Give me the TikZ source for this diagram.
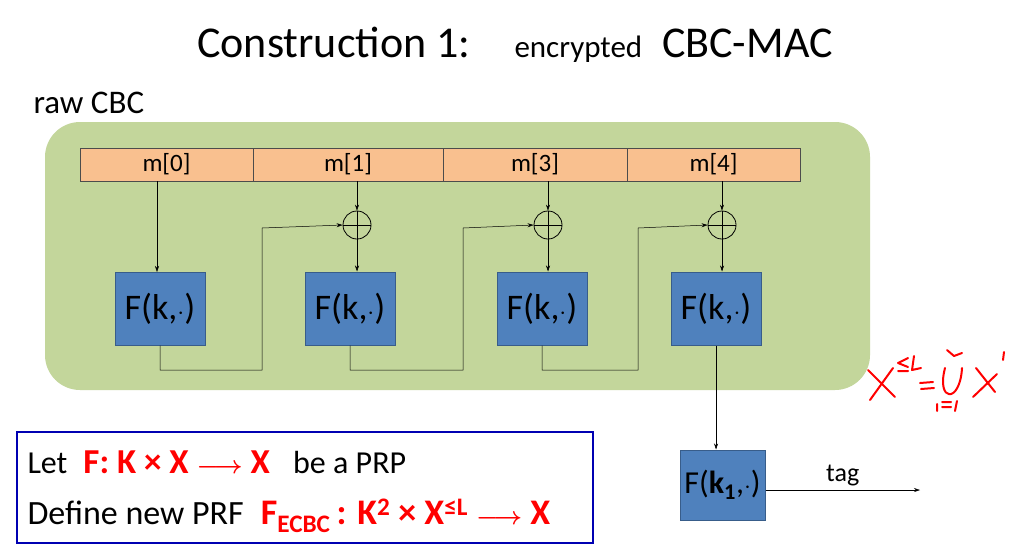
\documentclass[tikz,border=0pt]{standalone}
\usepackage{amsmath}
\usepackage{fontspec}
\setmainfont{Carlito}
\usetikzlibrary{arrows.meta}
\definecolor{grn}{HTML}{C3D69B}
\definecolor{org}{HTML}{F9C08F}
\definecolor{blu}{HTML}{4F81BD}
\definecolor{bdr}{HTML}{385D8A}
\definecolor{rd}{HTML}{FF0000}
\begin{document}
\begin{tikzpicture}[x=1pt,y=-1pt,
 fbox/.style={draw=bdr,fill=blu,line width=1pt,minimum width=90pt,minimum height=73pt,inner sep=0pt,font=\fontsize{36}{40}\selectfont},
 msg/.style={draw=black!70,fill=org,minimum height=33pt,inner sep=0pt,font=\fontsize{25}{28}\selectfont},
 xr/.style={draw,circle,minimum size=28pt,inner sep=0pt,line width=0.8pt},
 ar/.style={-{Stealth[length=6pt,width=4pt]},line width=0.5pt},
 ln/.style={line width=0.5pt}]
\useasboundingbox (0,0) rectangle (1024,550);
\fill[white] (0,0) rectangle (1024,550);
\node (title) at (515,45) {\fontsize{44}{48}\selectfont Construction 1:\quad{\fontsize{31}{34}\selectfont encrypted}\ \ CBC-MAC};
\node[anchor=west] (raw) at (30,103) {\fontsize{33}{36}\selectfont raw CBC};
\fill[grn,rounded corners=35pt] (45,122) rectangle (870,390);
\node[msg,minimum width=173pt] (m0) at (166.5,164.5) {m[0]};
\node[msg,minimum width=190pt] (m1) at (348,164.5) {m[1]};
\node[msg,minimum width=184pt] (m3) at (535,164.5) {m[3]};
\node[msg,minimum width=173pt] (m4) at (713.5,164.5) {m[4]};
\node[fbox] (f1) at (160,308.5) {F(k,$\cdot$)};
\node[fbox] (f2) at (350,308.5) {F(k,$\cdot$)};
\node[fbox] (f3) at (542,308.5) {F(k,$\cdot$)};
\node[fbox] (f4) at (716,308.5) {F(k,$\cdot$)};
\node[xr] (x2) at (357,225) {};
\node[xr] (x3) at (548,225) {};
\node[xr] (x4) at (722,225) {};
\foreach \n in {x2,x3,x4}{\draw[line width=0.8pt] (\n.north)--(\n.south) (\n.west)--(\n.east);}
\draw[ar] (157,181) -- (157,272);
\draw[ar] (m1.south -| x2) -- (x2.north);
\draw[ar] (m3.south -| x3) -- (x3.north);
\draw[ar] (m4.south -| x4) -- (x4.north);
\draw[ar] (x2.south) -- (x2.south |- f2.north);
\draw[ar] (x3.south) -- (x3.south |- f3.north);
\draw[ar] (x4.south) -- (x4.south |- f4.north);
\coordinate (c1) at (262,370); \coordinate (c2) at (463,370); \coordinate (c3) at (638,370);
\draw[ar] (f1.south) -- (f1.south |- c1) -- (c1) -- (262,228) -- (x2.west);
\draw[ar] (f2.south) -- (f2.south |- c2) -- (c2) -- (463,228) -- (x3.west);
\draw[ar] (f3.south) -- (f3.south |- c3) -- (c3) -- (638,228) -- (x4.west);
\node[fbox,minimum width=85pt,minimum height=70pt,font=\fontsize{32}{36}\selectfont] (fk) at (722.5,485) {F(\textbf{k\textsubscript{1}},$\cdot$)};
\draw[ar] (f4.south) -- (f4.south |- fk.north);
\coordinate (tagend) at (920,490);
\draw[ar] (fk.east |- tagend) -- node[above,font=\fontsize{26}{28}\selectfont] (tag) {tag} (tagend);
% handwriting
\begin{scope}[rd,line width=2pt,line cap=round,line join=round]
\draw (868,370) -- (895,397) (893,368) -- (870,400);
\draw (908,358) -- (898,363) -- (908,367) (898,371) -- (908,371);
\draw (914,356) -- (912,370) -- (921,368);
\draw (920,383) -- (933,382) (921,389) -- (934,388);
\draw (945,368) .. controls (936,402) and (960,404) .. (962,368);
\draw (947,350) -- (954,356) -- (962,353);
\draw (976,368) -- (995,392) (997,374) -- (973,397);
\draw (1004,352) -- (1003,360);
\draw (937,404) -- (937,411) (942,402)--(951,402) (942,407)--(951,407) (957,401)--(955,411);
\end{scope}
\draw[draw=blue!70!black,line width=1.5pt] (17,432) rectangle (593,543);
\node[anchor=west,font=\fontsize{32}{36}\selectfont] (l1) at (24,462) {Let\enspace{\color{rd}\fontsize{35}{38}\selectfont\bfseries F: K × X $\boldsymbol{\longrightarrow}$ X}\enspace\ be a PRP};
\node[anchor=west,font=\fontsize{34}{38}\selectfont] (l2) at (24,516) {Define new PRF\enspace{\color{rd}\fontsize{36}{38}\selectfont\bfseries F\textsubscript{ECBC}\,: K\textsuperscript{2} × X\textsuperscript{≤L} $\boldsymbol{\longrightarrow}$ X}};
\end{tikzpicture}
\end{document}
